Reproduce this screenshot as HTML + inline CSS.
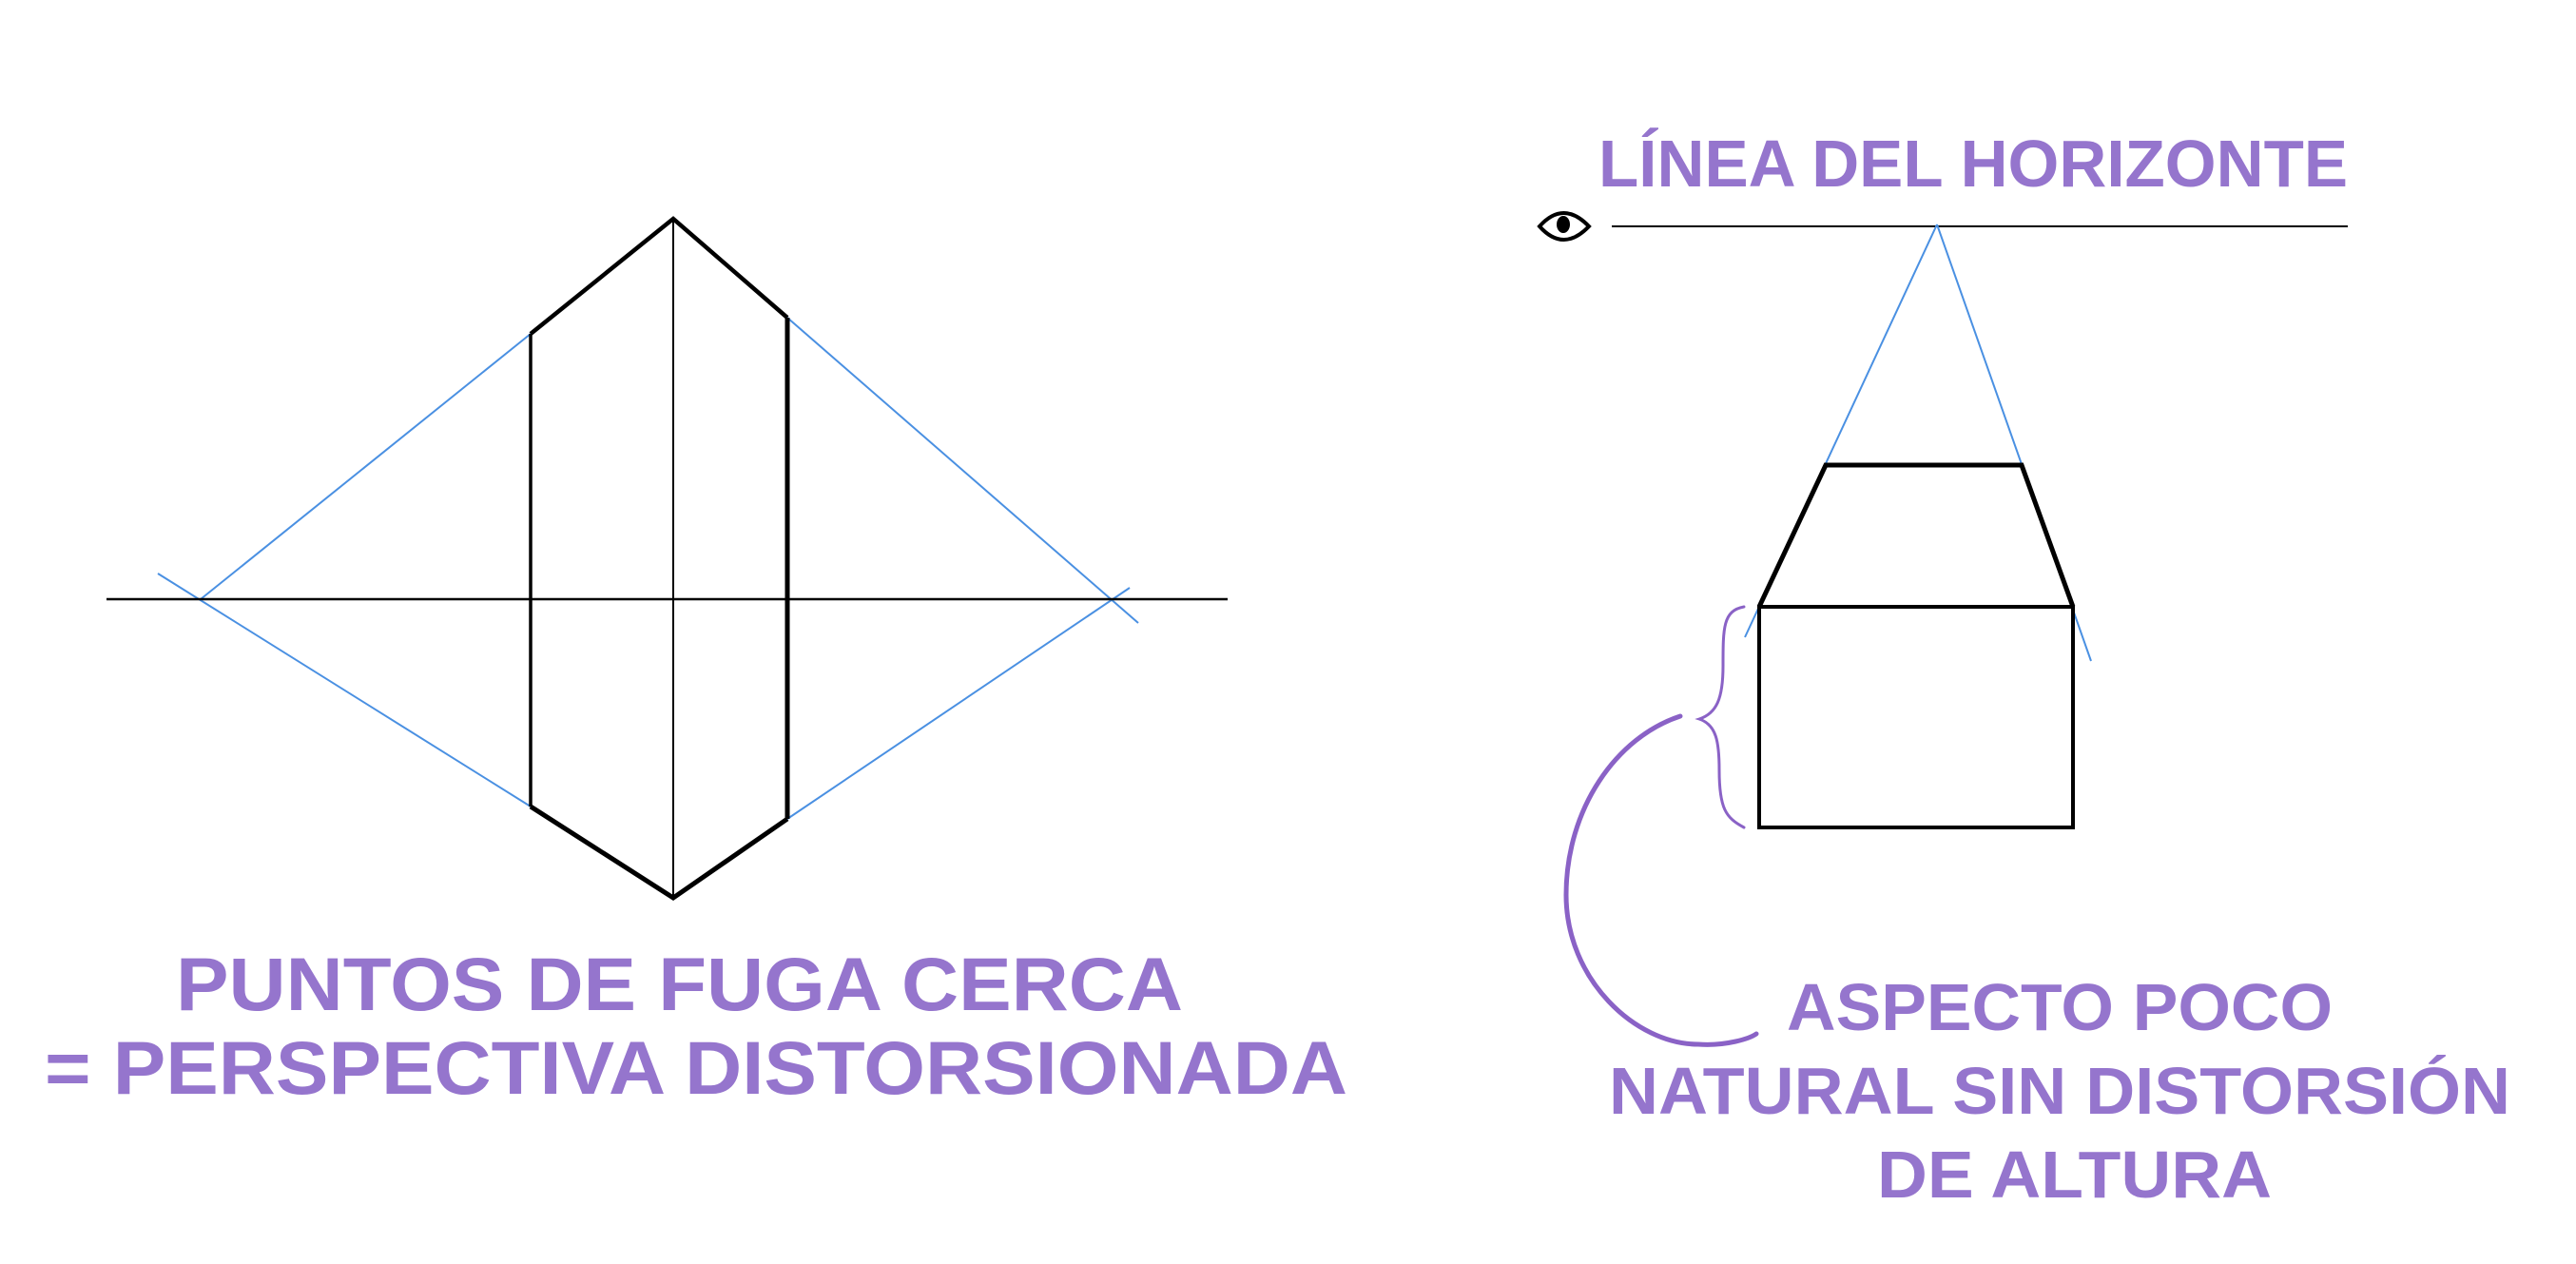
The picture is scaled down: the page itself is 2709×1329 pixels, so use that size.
<!DOCTYPE html>
<html><head><meta charset="utf-8"><style>html,body{margin:0;padding:0;background:#fff}svg{display:block}</style></head>
<body>
<svg width="2709" height="1329" viewBox="0 0 2709 1329" xmlns="http://www.w3.org/2000/svg">
<rect width="2709" height="1329" fill="#fff"/>
<!-- left diagram -->
<g stroke="#4a90e2" stroke-width="2" fill="none">
<line x1="166" y1="603" x2="558" y2="848"/>
<line x1="211" y1="630" x2="558" y2="351"/>
<line x1="828" y1="334" x2="1197" y2="655"/>
<line x1="828" y1="861" x2="1188" y2="618"/>
</g>
<line x1="112" y1="630" x2="1291" y2="630" stroke="#000" stroke-width="2.5"/>
<line x1="708" y1="230" x2="708" y2="944" stroke="#000" stroke-width="2"/>
<polyline points="558,351 708,230 828,334" fill="none" stroke="#000" stroke-width="4.5"/>
<polyline points="558,848 708,944 828,861" fill="none" stroke="#000" stroke-width="5"/>
<line x1="558" y1="351" x2="558" y2="848" stroke="#000" stroke-width="3.5"/>
<line x1="828" y1="334" x2="828" y2="861" stroke="#000" stroke-width="5"/>
<g fill="#9575cd" font-family="Liberation Sans, sans-serif" font-weight="bold">
<text x="185" y="1062" font-size="79" textLength="1059" lengthAdjust="spacingAndGlyphs">PUNTOS DE FUGA CERCA</text>
<text x="47" y="1150" font-size="79" textLength="1370" lengthAdjust="spacingAndGlyphs">= PERSPECTIVA DISTORSIONADA</text>
<text x="1681" y="196" font-size="70" textLength="788" lengthAdjust="spacingAndGlyphs">LÍNEA DEL HORIZONTE</text>
<text x="1879" y="1083" font-size="70" textLength="574" lengthAdjust="spacingAndGlyphs">ASPECTO POCO</text>
<text x="1692" y="1171" font-size="70" textLength="948" lengthAdjust="spacingAndGlyphs">NATURAL SIN DISTORSIÓN</text>
<text x="1974" y="1259" font-size="70" textLength="415" lengthAdjust="spacingAndGlyphs">DE ALTURA</text>
</g>
<!-- right diagram -->
<path d="M1619,238 Q1644,210 1671,238 Q1644,266 1619,238 Z" fill="none" stroke="#000" stroke-width="4"/>
<ellipse cx="1644" cy="236" rx="7" ry="9" fill="#000"/>
<line x1="1695" y1="238" x2="2469" y2="238" stroke="#000" stroke-width="2"/>
<g stroke="#4a90e2" stroke-width="2" fill="none">
<line x1="2037" y1="236" x2="1835" y2="670"/>
<line x1="2037" y1="236" x2="2199" y2="695"/>
</g>
<polyline points="1850,638 1920,489 2126,489 2180,638" fill="none" stroke="#000" stroke-width="5"/>
<rect x="1850" y="638" width="330" height="232" fill="none" stroke="#000" stroke-width="4"/>
<line x1="1850" y1="638" x2="2180" y2="638" stroke="#000" stroke-width="2.5"/>
<g stroke="#8a62c6" fill="none" stroke-linecap="round">
<path d="M1834,638 C1812,642 1812,660 1812,700 C1812,735 1805,750 1787,756 C1805,762 1808,780 1808,810 C1808,850 1815,860 1834,870" stroke-width="3"/>
<path d="M1767,753 C1700,775 1647,850 1647,941 C1647,1030 1720,1098 1786,1098 C1815,1100 1840,1092 1847,1087" stroke-width="5"/>
</g>
</svg>
</body></html>
